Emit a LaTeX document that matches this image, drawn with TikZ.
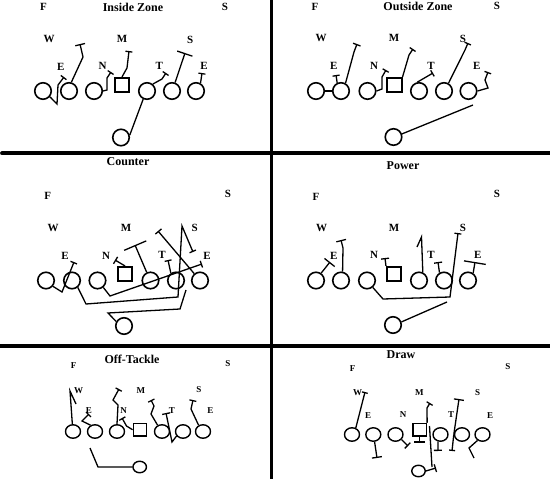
\documentclass[tikz,border=0pt]{standalone}
\usepackage{fontspec}
\setmainfont{Liberation Serif}
\usetikzlibrary{arrows.meta,shapes.geometric}
\begin{document}
\begin{tikzpicture}[x=1pt,y=-1pt,
  pl/.style={circle,draw,line width=1.6pt,minimum size=16.5pt,inner sep=0pt},
  ctr/.style={rectangle,draw,line width=1.6pt,minimum size=14.5pt,inner sep=0pt},
  plb/.style={ellipse,draw,line width=1.4pt,minimum width=15pt,minimum height=13.5pt,inner sep=0pt},
  rbb/.style={ellipse,draw,line width=1.4pt,minimum width=13.5pt,minimum height=11.5pt,inner sep=0pt},
  ctrb/.style={rectangle,draw,line width=1.4pt,minimum width=13.5pt,minimum height=12.5pt,inner sep=0pt},
  lbl/.style={font=\fontsize{11}{11}\selectfont\bfseries,inner sep=0pt},
  lbls/.style={font=\fontsize{9}{9}\selectfont\bfseries,inner sep=0pt},
  ttl/.style={font=\fontsize{12}{12}\selectfont\bfseries,inner sep=0pt},
  rt/.style={line width=1.3pt},
  blk/.style={rt,-{Bar[width=#1]}},
  blk/.default=7pt,
  divider/.style={line width=3.8pt}]
\useasboundingbox (0,0) rectangle (550,479);
\fill[white] (0,0) rectangle (550,479);
% dividers
\draw[divider,line width=3.5pt] (271.5,0) -- (271.5,479);
\draw[divider,line cap=round] (2,153.3) -- (552,153.3);
\draw[divider,line width=4pt] (0,345.5) -- (550,345.5);

% ===== Panel 1: Inside Zone =====
\node[lbl] (a_F) at (43.5,7.3) {F};
\node[ttl] (a_t) at (133,7.5) {Inside Zone};
\node[lbl] (a_S2) at (225,6.5) {S};
\node[lbl] (a_W) at (49,39) {W};
\node[lbl] (a_M) at (122,39) {M};
\node[lbl] (a_S) at (190.3,40) {S};
\node[lbl] (a_E1) at (60.7,66.7) {E};
\node[lbl] (a_N) at (102.5,65.8) {N};
\node[lbl] (a_T) at (159.3,65.8) {T};
\node[lbl] (a_E2) at (204,65.8) {E};
\node[pl] (a1) at (43,91) {};
\node[pl] (a2) at (69,91) {};
\node[pl] (a3) at (94,91) {};
\node[ctr] (a4) at (122,85) {};
\node[pl] (a5) at (147,91) {};
\node[pl] (a6) at (172,91) {};
\node[pl] (a7) at (196,91) {};
\node[pl] (a0) at (121,137.5) {};
\draw[blk] (a1.-40) -- (57,104) -- (58,85) -- (64,77);
\draw[blk=10pt] (a2.75) -- (83,57) -- (80,44);
\draw[blk] (a3.east) -- (107,90) -- (107,78) -- (111,72);
\draw[blk] (a4.north) -- (127,68) -- (129,51);
\draw[rt] (a0.15) -- (a5.-115);
\draw[blk] (a5.50) -- (162,79) -- (166,73);
\draw[blk=16pt] (a6.70) -- (185,53);
\draw[blk] (a7.60) -- (202,73);

% ===== Panel 2: Outside Zone =====
\node[lbl] (b_F) at (315,7) {F};
\node[ttl] (b_t) at (418,6.5) {Outside Zone};
\node[lbl] (b_S2) at (497,5.5) {S};
\node[lbl] (b_W) at (321,37.5) {W};
\node[lbl] (b_M) at (394,37.5) {M};
\node[lbl] (b_S) at (463,39) {S};
\node[lbl] (b_E1) at (333.7,66) {E};
\node[lbl] (b_N) at (374,66) {N};
\node[lbl] (b_T) at (431,66) {T};
\node[lbl] (b_E2) at (476.7,66) {E};
\node[pl] (b1) at (316,91) {};
\node[pl] (b2) at (341,91) {};
\node[pl] (b3) at (367.5,91) {};
\node[ctr] (b4) at (394.5,85) {};
\node[pl] (b5) at (419,91) {};
\node[pl] (b6) at (444,91) {};
\node[pl] (b7) at (468.5,91) {};
\node[pl] (b0) at (393.5,137) {};
\draw[rt] (b1.east) -- (b2.west);
\draw[blk] (b2.115) -- (336,75);
\draw[blk=8pt] (b2.60) -- (354,52) -- (357,44);
\draw[blk] (b3.east) -- (382,89) -- (382,77) -- (386,70);
\draw[blk] (b4.north east) -- (409,55) -- (413,49);
\draw[blk] (b5.100) -- (433,73);
\draw[blk] (b6.60) -- (465,50) -- (468,43);
\draw[blk] (b7.east) -- (488,88) -- (485,80) -- (488,72);
\coordinate (bend) at (473,105);
\draw[rt] (b0.20) -- (bend);

% ===== Panel 3: Counter =====
\node[ttl] (c_t) at (128,161.7) {Counter};
\node[lbl] (c_F) at (47.7,196) {F};
\node[lbl] (c_S2) at (228,194) {S};
\node[lbl] (c_W) at (53,227.5) {W};
\node[lbl] (c_M) at (126,227.5) {M};
\node[lbl] (c_S) at (194.7,228) {S};
\node[lbl] (c_E1) at (65,256) {E};
\node[lbl] (c_N) at (106,256) {N};
\node[lbl] (c_T) at (162,255) {T};
\node[lbl] (c_E2) at (207,256) {E};
\node[pl] (c1) at (46,280.5) {};
\node[pl] (c2) at (72,280.5) {};
\node[pl] (c3) at (97.5,280.5) {};
\node[ctr] (c4) at (125,274) {};
\node[pl] (c5) at (150.5,280.5) {};
\node[pl] (c6) at (176,280.5) {};
\node[pl] (c7) at (200,280.5) {};
\node[pl] (c0) at (124,326) {};
\draw[blk] (c1.-40) -- (62,292) -- (74,262);
\draw[blk] (c2.-50) -- (86,304) -- (178,297) -- (182,226) -- (193,252);
\draw[blk] (c3.-50) -- (110,296) -- (202,264);
\draw[blk=8pt] (c4.north) -- (115,260);
\draw[blk=24pt] (c5.115) -- (135,245);
\draw[blk] (c6.125) -- (168,260);
\draw[blk=8pt] (c7.130) -- (158,231);
\coordinate (cend) at (186,290);
\draw[rt] (c0.150) -- (108,313) -- (180,309) -- (cend);

% ===== Panel 4: Power =====
\node[ttl] (d_t) at (403,165.8) {Power};
\node[lbl] (d_F) at (316,197) {F};
\node[lbl] (d_S2) at (497,194) {S};
\node[lbl] (d_W) at (321.7,227.5) {W};
\node[lbl] (d_M) at (394,227.5) {M};
\node[lbl] (d_S) at (463,228) {S};
\node[lbl] (d_E1) at (333.7,256) {E};
\node[lbl] (d_N) at (374,254.5) {N};
\node[lbl] (d_T) at (431,254.5) {T};
\node[lbl] (d_E2) at (477.7,255) {E};
\node[pl] (d1) at (316,280.5) {};
\node[pl] (d2) at (341,280.5) {};
\node[pl] (d3) at (367,280.5) {};
\node[ctr] (d4) at (394,274) {};
\node[pl] (d5) at (419,280.5) {};
\node[pl] (d6) at (444,280.5) {};
\node[pl] (d7) at (468,280.5) {};
\node[pl] (d0) at (393,325) {};
\draw[blk=13pt] (d1.55) -- (330,262);
\draw[blk=10pt] (d2.80) -- (343,248) -- (341,240);
\draw[blk] (d3.-50) -- (383,299) -- (450,297) -- (458,233);
\draw[blk=8pt] (d4.north west) -- (385,258);
\draw[rt] (d5.65) -- (421.5,237) -- (417,247);
\draw[blk=8pt] (d6.120) -- (438,262);
\draw[blk=22pt] (d7.55) -- (475,262);
\coordinate (dend) at (447,302);
\draw[rt] (d0.20) -- (dend);

% ===== Panel 5: Off-Tackle =====
\node[ttl] (e_t) at (132,359.2) {Off-Tackle};
\node[lbls] (e_F) at (73.7,366) {F};
\node[lbls] (e_S2) at (228,364) {S};
\node[lbls] (e_W) at (78.7,390.3) {W};
\node[lbls] (e_M) at (140.8,390.3) {M};
\node[lbls] (e_S) at (199,390) {S};
\node[lbls] (e_E1) at (88.8,411) {E};
\node[lbls] (e_N) at (123.7,411) {N};
\node[lbls] (e_T) at (172,411) {T};
\node[lbls] (e_E2) at (210.3,411) {E};
\node[plb] (e1) at (73,431.5) {};
\node[plb] (e2) at (95,431.5) {};
\node[plb] (e3) at (117,431.5) {};
\node[ctrb] (e4) at (140,429.7) {};
\node[plb] (e5) at (162,431.5) {};
\node[plb] (e6) at (183,431.5) {};
\node[plb] (e7) at (203,431.5) {};
\node[rbb] (e0) at (139.7,467) {};
\draw[rt] (e1.95) -- (70,391) -- (76,404);
\draw[blk] (e2.125) -- (82,421) -- (89,414);
\draw[blk] (e3.north) -- (118,405) -- (113,400) -- (119,389);
\draw[blk] (e4.west) -- (126.5,426) -- (122,418);
\draw[blk] (e5.125) -- (151,414) -- (154,406) -- (151,400);
\draw[blk=8pt] (e6.-145) -- (172,442) -- (166,413);
\draw[blk] (e7.125) -- (191,409) -- (193,400);
\coordinate (eend) at (90,448);
\draw[rt] (e0.west) -- (98,467) -- (eend);

% ===== Panel 6: Draw =====
\node[ttl] (f_t) at (401,355) {Draw};
\node[lbls] (f_F) at (352.5,368.3) {F};
\node[lbls] (f_S2) at (508,366.7) {S};
\node[lbls] (f_W) at (357.7,393) {W};
\node[lbls] (f_M) at (419.3,393) {M};
\node[lbls] (f_S) at (477.7,393) {S};
\node[lbls] (f_E1) at (368,415.3) {E};
\node[lbls] (f_N) at (403,414.7) {N};
\node[lbls] (f_T) at (451,414.7) {T};
\node[lbls] (f_E2) at (490,415.3) {E};
\node[plb] (f1) at (352,434.5) {};
\node[plb] (f2) at (373.3,434.5) {};
\node[plb] (f3) at (395.5,434.5) {};
\node[ctrb] (f4) at (419.7,429.7) {};
\node[plb] (f5) at (440.5,434.5) {};
\node[plb] (f6) at (462,434.5) {};
\node[plb] (f7) at (482.5,434.5) {};
\node[rbb] (f0) at (418.5,471) {};
\draw[blk=6pt] (f1.60) -- (365,392);
\draw[blk=10pt] (f2.-80) -- (377,458);
\draw[blk=8pt] (f3.-40) -- (408,446);
\draw[blk=11pt] (f4.south) -- ++(0,6);
\draw[blk] (f4.north east) -- (427,408) -- (430,403);
\coordinate (qb) at (429.5,426);
\coordinate (qbend) at (432,467);
\draw[rt] (qb) -- (qbend);
\draw[blk=8pt] (f0.east) -- (436,468);
\draw[blk=8pt] (f5.-110) -- (438,451);
\draw[blk=10pt] (f6.west) -- (459,399);
\draw[blk=6pt] (f6.west) -- (452,451);
\draw[rt] (f7.-130) -- (469,448) -- (474,458);
\end{tikzpicture}
\end{document}
